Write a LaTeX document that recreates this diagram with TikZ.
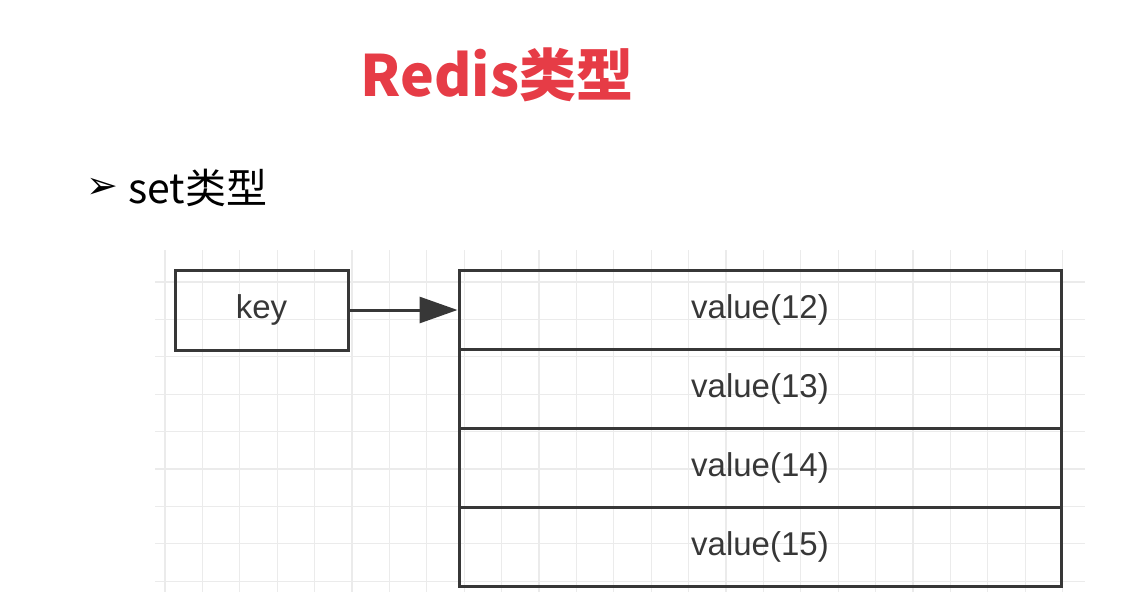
\documentclass[tikz,border=0pt]{standalone}
\usepackage{fontspec}
\setmainfont{Liberation Sans}
\newfontfamily\cjk{Noto Sans CJK SC}
\usetikzlibrary{positioning,arrows.meta}
\definecolor{redistitle}{RGB}{230,60,70}
\definecolor{boxline}{RGB}{55,55,55}
\tikzset{
  cell/.style={draw=boxline, line width=3pt, minimum width=602pt, minimum height=79pt,
    inner sep=0pt, font=\fontsize{33}{33}\selectfont, text=boxline},
  keybox/.style={draw=boxline, line width=3pt, minimum width=173pt, minimum height=80pt,
    inner sep=0pt, font=\fontsize{33}{33}\selectfont, text=boxline},
}
\begin{document}
\begin{tikzpicture}[x=1pt, y=-1pt]
  \useasboundingbox (0,0) rectangle (1123,614);
  % grid
  \foreach \i in {0,...,24} \draw[black!8, line width=1.2pt] (165+37.4*\i,250) -- (165+37.4*\i,592);
  \foreach \j in {0,...,8} \draw[black!8, line width=1.2pt] (155,282+37.4*\j) -- (1085,282+37.4*\j);
  % title
  \node[font=\cjk\bfseries\fontsize{57}{57}\selectfont, text=redistitle] (title) at (497,75) {Redis类型};
  \node[font=\fontsize{38}{38}\selectfont, anchor=west, inner sep=0pt] (bullet) at (86,188) {\fontspec{DejaVu Sans}\textbf{➢}};
  \node[font=\cjk\fontsize{41}{41}\selectfont, anchor=west, inner sep=0pt] (settype) at (128,188) {set类型};
  % boxes
  \node[keybox] (key) at (261.5,310) {key};
  \node[cell] (v12) at (760,310) {value(12)};
  \node[cell, below=-3pt of v12] (v13) {value(13)};
  \node[cell, below=-3pt of v13] (v14) {value(14)};
  \node[cell, below=-3pt of v14] (v15) {value(15)};
  \draw[boxline, line width=3pt, -{Triangle[length=38pt, width=26pt]}] (key) -- (v12);
\end{tikzpicture}
\end{document}
